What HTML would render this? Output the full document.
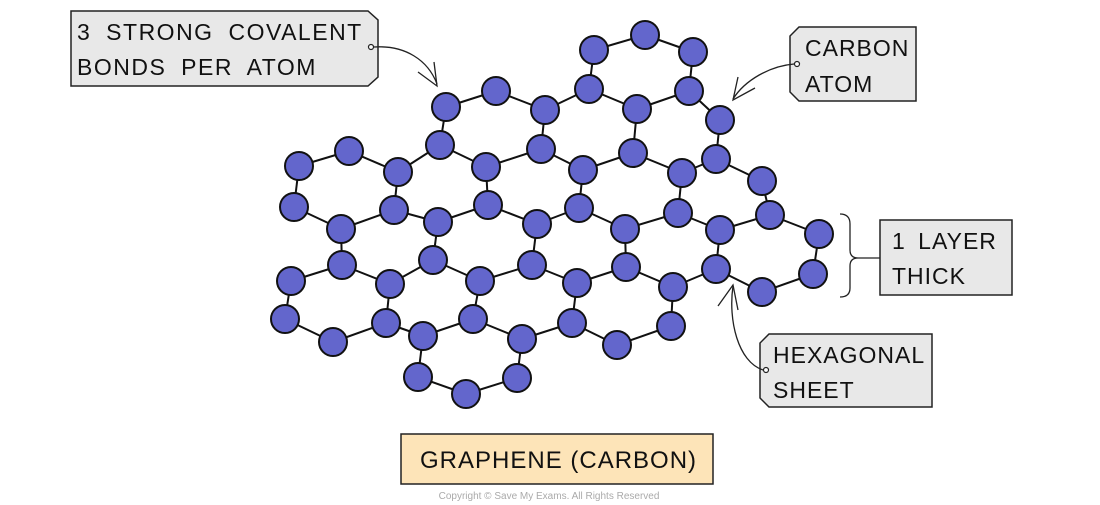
<!DOCTYPE html>
<html><head><meta charset="utf-8"><style>
html,body{margin:0;padding:0;background:#fff;}
svg{display:block;}
text{font-family:"Liberation Sans",sans-serif;font-size:23px;fill:#111;letter-spacing:1px;}
.w{letter-spacing:1.5px;word-spacing:7px;}
</style></head><body>
<svg id="s" width="1100" height="505" viewBox="0 0 1100 505" xmlns="http://www.w3.org/2000/svg">
<rect width="1100" height="505" fill="#fff"/>
<g id="bonds" stroke="#111" stroke-width="2"></g>
<g id="atoms" fill="#6366cc" stroke="#111" stroke-width="2"></g>

<path d="M71,11 L368,11 L378,20 L378,77 L368,86 L71,86 Z" fill="#e8e8e8" stroke="#222" stroke-width="1.5"/>
<text class="w" x="77" y="40">3 STRONG COVALENT</text>
<text class="w" x="77" y="75">BONDS PER ATOM</text>
<circle cx="371" cy="47" r="2.5" fill="#fff" stroke="#222" stroke-width="1.2"/>
<path d="M374,47 C405,45 428,60 437,84" fill="none" stroke="#222" stroke-width="1.3"/>
<path d="M418,72 L437,86 L434,62" fill="none" stroke="#222" stroke-width="1.3"/>

<path d="M799,27 L916,27 L916,101 L799,101 L790,92 L790,36 Z" fill="#e8e8e8" stroke="#222" stroke-width="1.5"/>
<text x="805" y="56">CARBON</text>
<text x="805" y="92">ATOM</text>
<circle cx="797" cy="64" r="2.5" fill="#fff" stroke="#222" stroke-width="1.2"/>
<path d="M794,64 C770,66 745,80 733,99" fill="none" stroke="#222" stroke-width="1.3"/>
<path d="M738,77 L733,100 L755,88" fill="none" stroke="#222" stroke-width="1.3"/>

<path d="M840,214 Q850,214 850,224 L850,250 Q850,258 858,258 Q850,258 850,266 L850,288 Q850,297 840,297" fill="none" stroke="#222" stroke-width="1.3"/>
<line x1="858" y1="258" x2="880" y2="258" stroke="#222" stroke-width="1.3"/>
<rect x="880" y="220" width="132" height="75" fill="#e8e8e8" stroke="#222" stroke-width="1.5"/>
<text x="892" y="249" style="word-spacing:5px">1 LAYER</text>
<text x="892" y="284">THICK</text>

<path d="M769,334 L932,334 L932,407 L769,407 L760,398 L760,343 Z" fill="#e8e8e8" stroke="#222" stroke-width="1.5"/>
<text x="773" y="363">HEXAGONAL</text>
<text x="773" y="398">SHEET</text>
<circle cx="766" cy="370" r="2.5" fill="#fff" stroke="#222" stroke-width="1.2"/>
<path d="M763,370 C738,362 728,320 733,286" fill="none" stroke="#222" stroke-width="1.3"/>
<path d="M718,306 L733,285 L738,310" fill="none" stroke="#222" stroke-width="1.3"/>

<rect x="401" y="434" width="312" height="50" fill="#fde4b8" stroke="#222" stroke-width="1.5"/>
<text x="420" y="468" style="font-size:24px">GRAPHENE  (CARBON)</text>
<text x="549" y="499" text-anchor="middle" style="font-size:10px;fill:#aaa;letter-spacing:0">Copyright © Save My Exams. All Rights Reserved</text>
</svg>
<script>
var A=[[594,50],[645,35],[693,52],[589,89],[637,109],[689,91],[720,120],[716,159],[762,181],[770,215],[819,234],[813,274],[762,292],[716,269],[720,230],[678,213],[682,173],[633,153],[583,170],[545,110],[541,149],[579,208],[625,229],[626,267],[673,287],[671,326],[617,345],[572,323],[577,283],
[446,107],[496,91],[440,145],[486,167],[299,166],[349,151],[398,172],[294,207],[341,229],[394,210],[438,222],[488,205],[537,224],[342,265],[433,260],[390,284],[480,281],[532,265],[291,281],[285,319],[333,342],[386,323],[423,336],[473,319],[522,339],[418,377],[466,394],[517,378]];
var b=document.getElementById('bonds'),a=document.getElementById('atoms'),ns='http://www.w3.org/2000/svg';
for(var i=0;i<A.length;i++)for(var j=i+1;j<A.length;j++){var dx=A[i][0]-A[j][0],dy=A[i][1]-A[j][1];if(dx*dx+dy*dy<58*58){var l=document.createElementNS(ns,'line');l.setAttribute('x1',A[i][0]);l.setAttribute('y1',A[i][1]);l.setAttribute('x2',A[j][0]);l.setAttribute('y2',A[j][1]);b.appendChild(l);}}
A.forEach(function(p){var c=document.createElementNS(ns,'circle');c.setAttribute('cx',p[0]);c.setAttribute('cy',p[1]);c.setAttribute('r',14);a.appendChild(c);});
</script>
</body></html>
